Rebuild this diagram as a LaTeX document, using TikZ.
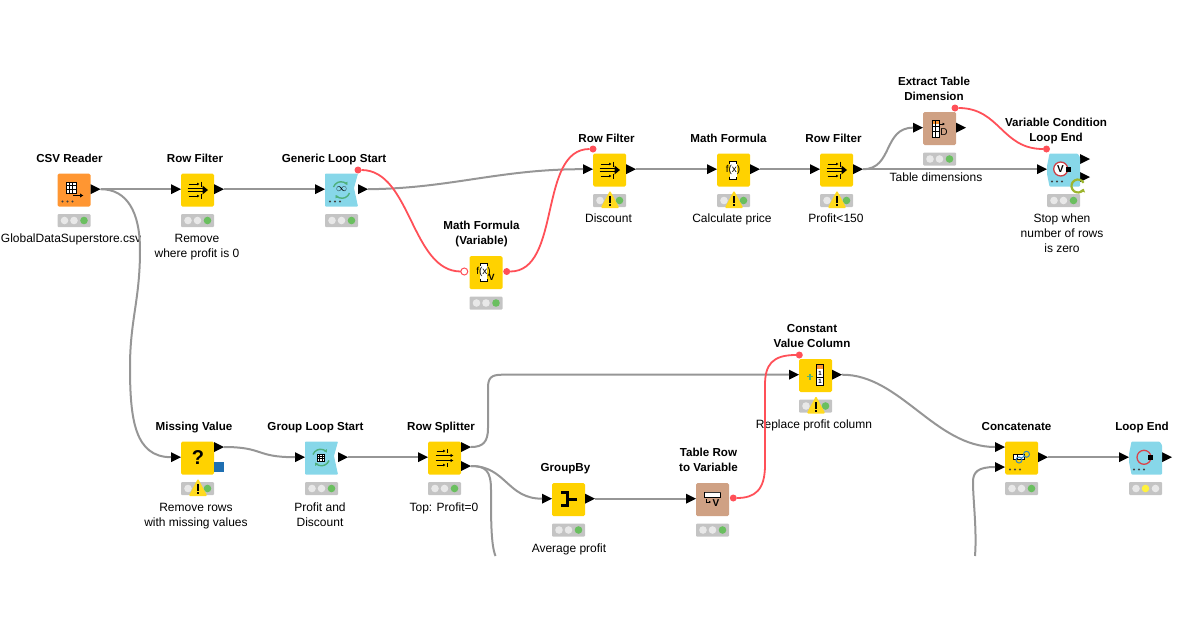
\documentclass[tikz,border=0pt]{standalone}
\usepackage{fontspec}
\setmainfont{Liberation Sans}
\usetikzlibrary{shapes.geometric,arrows.meta}
\definecolor{learnerfill}{HTML}{FFD200}
\definecolor{readerfill}{HTML}{FF9632}
\definecolor{loopfill}{HTML}{87D7E9}
\definecolor{varfill}{HTML}{CFA184}
\definecolor{lightbar}{HTML}{C4C4C4}
\definecolor{lightoff}{HTML}{E8E8E8}
\definecolor{lightgreen}{HTML}{6ABF5F}
\definecolor{lightyellow}{HTML}{FFF23C}
\definecolor{flowred}{HTML}{FF5058}
\definecolor{edgegrey}{HTML}{969696}
\definecolor{loopgreen}{HTML}{4FB07C}
\definecolor{recycle}{HTML}{9DB52E}
\definecolor{modelblue}{HTML}{1F6FB2}
\definecolor{warnfill}{HTML}{FFDA1F}
\tikzset{
  lights/.pic={
    \fill [lightbar, rounded corners=1] (-16.5,24) rectangle (16.5,37);
    \fill [lightoff] (-9.5,30.5) circle (3.8);
    \fill [lightoff] (0,30.5) circle (3.8);
    \fill [lightgreen] (10,30.5) circle (3.8);
  },
  lightsrun/.pic={
    \fill [lightbar, rounded corners=1] (-16.5,24) rectangle (16.5,37);
    \fill [lightoff] (-9.5,30.5) circle (3.8);
    \fill [lightyellow] (0,30.5) circle (3.8);
    \fill [lightoff] (10,30.5) circle (3.8);
  },
  warning/.pic={
    \fill [warnfill, rounded corners=1.2] (0.5,20.5) -- (9.8,38) -- (-8.8,38) -- cycle;
    \fill [black] (-0.5,26) rectangle (1.5,33);
    \fill [black] (-0.5,34.3) rectangle (1.5,36.3);
  },
  threedots/.pic={
    \fill [black!75] (-11.5,11.5) circle (1.2);
    \fill [black!75] (-6.5,11.5) circle (1.2);
    \fill [black!75] (-1.5,11.5) circle (1.2);
  },
  loopstartshape/.pic={
    \fill [loopfill, rounded corners=0.8] (-16.5,-16.5) -- (16.5,-16.5) -- (12.5,-2) -- (16.5,16.5) -- (-16.5,16.5) -- cycle;
  },
  loopendshape/.pic={
    \fill [loopfill, rounded corners=0.8] (-14,-16.5) -- (14,-16.5) -- (16.5,-13) -- (16.5,16.5) -- (-14,16.5) -- (-16.5,4) -- (-16.5,-4) -- cycle;
  },
  looparrows/.pic={
    \draw [loopgreen, line width=1.4, -{Latex[length=3,width=4]}] (-8,-3) arc [start angle=200, end angle=325, radius=8];
    \draw [loopgreen, line width=1.4, -{Latex[length=3,width=4]}] (8,3) arc [start angle=20, end angle=145, radius=8];
  },
  filtericon/.pic={
    \draw [black, line width=0.9, -{Latex[length=2.5,width=3]}] (-9,-6) -- (2,-6);
    \draw [black, line width=0.9] (3.5,-8.5) -- (3.5,-3.5);
    \draw [black, line width=0.9, -{Latex[length=2.5,width=3]}] (-9,6) -- (2,6);
    \draw [black, line width=0.9] (3.5,3.5) -- (3.5,8.5);
    \draw [black, line width=1.5] (-10,-1.6) -- (6,-1.6);
    \draw [black, line width=1.5] (-10,1.6) -- (6,1.6);
    \fill [black] (10.5,0) -- (5,-4.5) -- (5,4.5) -- cycle;
  },
  splittericon/.pic={
    \draw [black, line width=0.7, -{Latex[length=2.5,width=3]}] (-8,-7) -- (1,-7);
    \draw [black, line width=0.7] (2.5,-9) -- (2.5,-5);
    \draw [black, line width=0.7, -{Latex[length=2.5,width=3]}] (-8,7) -- (1,7);
    \draw [black, line width=0.7] (2.5,5) -- (2.5,9);
    \draw [black, line width=0.9, -{Latex[length=3,width=3.5]}] (-9,-2.5) -- (9,-2.5);
    \draw [black, line width=0.9, -{Latex[length=3,width=3.5]}] (-9,2.5) -- (9,2.5);
  },
  fxicon/.pic={
    \fill [white] (-3.5,-8.5) rectangle (3.5,9.5);
    \node [font=\fontsize{10}{10}\selectfont] (fx) at (0,0.5) {f(x)};
    \draw [black, line width=1] (-3.5,-6) -- (-3.5,-8.5) -- (3.5,-8.5) -- (3.5,-6);
    \draw [black, line width=1] (-3.5,7) -- (-3.5,9.5) -- (3.5,9.5) -- (3.5,7);
  },
  gridicon/.pic={
    \fill [white] (-5,-5) rectangle (5,5);
    \draw [black, line width=0.7] (-5,-5) rectangle (5,5);
    \draw [black, line width=0.7] (-1.7,-5) -- (-1.7,5);
    \draw [black, line width=0.7] (1.7,-5) -- (1.7,5);
    \draw [black, line width=0.7] (-5,-1.7) -- (5,-1.7);
    \draw [black, line width=0.7] (-5,1.7) -- (5,1.7);
  }
}
\begin{document}
\begin{tikzpicture}[x=1pt,y=-1pt]
    \tikzstyle{every node}+=[inner sep=0pt, outer sep=0pt, text=black]
    \tikzstyle{knimebox}=[minimum size=33, rounded corners=1.5]
    \tikzstyle{learner}=[knimebox, fill=learnerfill]
    \tikzstyle{reader}=[knimebox, fill=readerfill]
    \tikzstyle{varnode}=[knimebox, fill=varfill]
    \tikzstyle{port}=[isosceles triangle, isosceles triangle stretches, fill=black, minimum width=10, minimum height=10]
    \tikzstyle{outport}=[port, anchor=lower side]
    \tikzstyle{inport}=[port, anchor=apex]
    \tikzstyle{varport}=[circle, fill=flowred, minimum size=7]
    \tikzstyle{varportin}=[circle, draw=flowred, fill=white, line width=1, minimum size=7]
    \tikzstyle{nodetitle}=[font=\bfseries\fontsize{11.6}{15}\selectfont, align=center, yshift=-1.3, execute at begin node=\strut, execute at end node=\strut]
    \tikzstyle{nodenote}=[font=\fontsize{12}{15}\selectfont, align=center, yshift=-1.3, execute at begin node=\strut, execute at end node=\strut]
    \tikzstyle{dataedge}=[edgegrey, line width=2]
    \tikzstyle{flowedge}=[flowred, line width=1.8]
    \useasboundingbox (0,0) rectangle (1200,630);
    \node [reader] (csv) at (74,190) {};
    \node [nodetitle] (csv-t) at (69.5,158) {CSV Reader};
    \node [nodenote] (csv-n) at (71,238) {GlobalDataSuperstore.csv};
    \node [outport] (csv-o) at ([yshift=0.8]csv.east) {};
    \pic at (csv) {lights};
    \pic at (csv) {threedots};
    \begin{scope}[shift={(71,187.5)}]
    \fill [white] (-5,-5.5) rectangle (5,5.5);
    \draw [black, line width=0.7] (-5,-5.5) rectangle (5,5.5);
    \draw [black, line width=0.7] (-5,-2.2) -- (5,-2.2);
    \draw [black, line width=0.7] (-5,1.5) -- (5,1.5);
    \draw [black, line width=0.7] (-1.7,-5.5) -- (-1.7,5.5);
    \draw [black, line width=0.7] (1.7,-5.5) -- (1.7,5.5);
    \end{scope}
    \draw [black, line width=1.3, -{Latex[length=3.5,width=4.5]}] (73,195.5) -- (83.5,195.5);
    \node [learner] (rf1) at (197.5,190) {};
    \node [nodetitle] (rf1-t) at (195,158) {Row Filter};
    \node [nodenote] (rf1-n) at (197,246.5) {Remove\\where profit is 0};
    \node [inport] (rf1-i) at ([yshift=0.8]rf1.west) {};
    \node [outport] (rf1-o) at ([yshift=0.8]rf1.east) {};
    \pic at (rf1) {lights};
    \pic at (rf1) {filtericon};
    \node [knimebox] (gen) at (341.5,190) {};
    \node [nodetitle] (gen-t) at (334,158) {Generic Loop Start};
    \node [inport] (gen-i) at ([yshift=0.8]gen.west) {};
    \node [outport] (gen-o) at ([yshift=0.8]gen.east) {};
    \node [varport] (gen-v) at (358,170) {};
    \pic at (gen) {loopstartshape};
    \pic at (gen) {lights};
    \pic at (gen) {threedots};
    \pic at (gen) {looparrows};
    \node [font=\bfseries\fontsize{11}{11}\selectfont] (gen-inf) at (341.5,189.5) {$\infty$};
    \node [learner] (mfv) at (486,272.5) {};
    \node [nodetitle] (mfv-t) at (481.5,234) {Math Formula\\(Variable)};
    \node [varportin] (mfv-i) at (464.3,271.5) {};
    \node [varport] (mfv-o) at (506.7,271.5) {};
    \pic at (mfv) {lights};
    \pic at (483.5,271.5) {fxicon};
    \node [font=\bfseries\fontsize{9}{9}\selectfont] (mfv-v) at (491.5,277.5) {V};
    \node [learner] (rf2) at (609.5,170) {};
    \node [nodetitle] (rf2-t) at (606.5,138) {Row Filter};
    \node [nodenote] (rf2-n) at (608.5,218) {Discount};
    \node [inport] (rf2-i) at ([yshift=0.8]rf2.west) {};
    \node [outport] (rf2-o) at ([yshift=0.8]rf2.east) {};
    \node [varport] (rf2-v) at (593,149) {};
    \pic at (rf2) {lights};
    \pic at (rf2) {warning};
    \pic at (rf2) {filtericon};
    \node [learner] (mf) at (733.5,170) {};
    \node [nodetitle] (mf-t) at (728.5,138) {Math Formula};
    \node [nodenote] (mf-n) at (732,218) {Calculate price};
    \node [inport] (mf-i) at ([yshift=0.8]mf.west) {};
    \node [outport] (mf-o) at ([yshift=0.8]mf.east) {};
    \pic at (mf) {lights};
    \pic at (mf) {warning};
    \pic at (733,169.5) {fxicon};
    \node [learner] (rf3) at (836.5,170) {};
    \node [nodetitle] (rf3-t) at (833.5,138) {Row Filter};
    \node [nodenote] (rf3-n) at (836,218) {Profit<150};
    \node [inport] (rf3-i) at ([yshift=0.8]rf3.west) {};
    \node [outport] (rf3-o) at ([yshift=0.8]rf3.east) {};
    \pic at (rf3) {lights};
    \pic at (rf3) {warning};
    \pic at (rf3) {filtericon};
    \node [varnode] (ext) at (939.5,128.5) {};
    \node [nodetitle] (ext-t) at (934,90) {Extract Table\\Dimension};
    \node [nodenote] (ext-n) at (936,177) {Table dimensions};
    \node [inport] (ext-i) at ([yshift=0.8]ext.west) {};
    \node [outport] (ext-o) at ([yshift=0.8]ext.east) {};
    \node [varport] (ext-v) at (955,108) {};
    \pic at (ext) {lights};
    \fill [white] (932,120) rectangle (939,137);
    \fill [readerfill] (932,120) rectangle (939,123.5);
    \draw [black, line width=0.6] (932,120) rectangle (939,137);
    \draw [black, line width=0.6] (935.5,120) -- (935.5,137);
    \draw [black, line width=0.6] (932,126) -- (939,126);
    \draw [black, line width=0.6] (932,131) -- (939,131);
    \draw [black, line width=0.7, -{Latex[length=2.5,width=3]}] (939,124) -- (945,124);
    \node [font=\fontsize{10}{10}\selectfont] (ext-d) at (944,132.5) {D};
    \node [knimebox] (vc) at (1063.5,170) {};
    \node [nodetitle] (vc-t) at (1056,131) {Variable Condition\\Loop End};
    \node [nodenote] (vc-n) at (1062,234.5) {Stop when\\number of rows\\is zero};
    \node [inport] (vc-i) at ([yshift=0.8]vc.west) {};
    \node [outport] (vc-o1) at ([yshift=11]vc.east) {};
    \node [outport] (vc-o2) at ([yshift=-7]vc.east) {};
    \node [varport] (vc-v) at (1046.5,149) {};
    \pic at (vc) {loopendshape};
    \pic at (vc) {lights};
    \pic at (vc) {threedots};
    \draw [flowred!80!black, fill=white, line width=1.3] (1060.7,169) circle (7);
    \node [font=\bfseries\fontsize{10}{10}\selectfont] (vc-vl) at (1060.5,169) {V};
    \fill [black] (1066,166.5) rectangle (1071,171.5);
    \draw [recycle, line width=2.2, -{Latex[length=3,width=6]}] (1083.6,182.75) arc [start angle=-30, end angle=-335, radius=6.5];
    \node [learner] (miss) at (197.5,458) {};
    \node [nodetitle] (miss-t) at (194,426) {Missing Value};
    \node [nodenote] (miss-n) at (196,515.5) {Remove rows\\with missing values};
    \node [inport] (miss-i) at ([yshift=0.8]miss.west) {};
    \node [outport] (miss-o) at ([yshift=11]miss.east) {};
    \fill [modelblue] (214,461.5) rectangle (224,471.5);
    \pic at (miss) {lights};
    \pic at (miss) {warning};
    \node [font=\bfseries\fontsize{20}{20}\selectfont] (miss-q) at (198,458) {?};
    \node [knimebox] (gl) at (321.5,458) {};
    \node [nodetitle] (gl-t) at (315.5,426) {Group Loop Start};
    \node [nodenote] (gl-n) at (320,515.5) {Profit and\\Discount};
    \node [inport] (gl-i) at ([yshift=0.8]gl.west) {};
    \node [outport] (gl-o) at ([yshift=0.8]gl.east) {};
    \pic at (gl) {loopstartshape};
    \pic at (gl) {lights};
    \pic at (321,457.5) {looparrows};
    \pic [scale=0.7] at (321,457.5) {gridicon};
    \node [learner] (rs) at (444.5,458) {};
    \node [nodetitle] (rs-t) at (441,426) {Row Splitter};
    \node [nodenote] (rs-n) at (444,507) {Top: Profit=0};
    \node [inport] (rs-i) at ([yshift=0.8]rs.west) {};
    \node [outport] (rs-o1) at ([yshift=11]rs.east) {};
    \node [outport] (rs-o2) at ([yshift=-8]rs.east) {};
    \pic at (rs) {lights};
    \pic at (rs) {splittericon};
    \node [learner] (gb) at (568.5,499.5) {};
    \node [nodetitle] (gb-t) at (565.5,467) {GroupBy};
    \node [nodenote] (gb-n) at (569,548) {Average profit};
    \node [inport] (gb-i) at ([yshift=0.8]gb.west) {};
    \node [outport] (gb-o) at ([yshift=0.8]gb.east) {};
    \pic at (gb) {lights};
    \draw [black, line width=3] (561,492.7) -- (567.3,492.7) -- (567.3,505) -- (561,505);
    \draw [black, line width=3] (567.3,499) -- (576.7,499);
    \node [varnode] (tr) at (712.5,499.5) {};
    \node [nodetitle] (tr-t) at (708.5,460.5) {Table Row\\to Variable};
    \node [inport] (tr-i) at ([yshift=0.8]tr.west) {};
    \node [varport] (tr-v) at (733.3,498) {};
    \pic at (tr) {lights};
    \draw [black, fill=white, line width=0.8] (704.5,492) rectangle (720.5,497.5);
    \fill [black!80] (704.5,492) rectangle (720.5,493);
    \draw [black, line width=0.7, -{Latex[length=2,width=2.5]}] (706,499) -- (706,502) -- (711,502);
    \node [font=\bfseries\fontsize{10}{10}\selectfont] (tr-vl) at (716,503) {V};
    \node [learner] (cv) at (815.5,375.5) {};
    \node [nodetitle] (cv-t) at (812,337) {Constant\\Value Column};
    \node [nodenote] (cv-n) at (814,424) {Replace profit column};
    \node [inport] (cv-i) at ([yshift=0.8]cv.west) {};
    \node [outport] (cv-o) at ([yshift=0.8]cv.east) {};
    \node [varport] (cv-v) at (799.3,355) {};
    \pic at (cv) {lights};
    \pic at (cv) {warning};
    \fill [white] (816,364.5) rectangle (823.5,385.5);
    \fill [readerfill] (816,364.5) rectangle (823.5,369);
    \draw [black, line width=0.7] (816,364.5) rectangle (823.5,385.5);
    \draw [black, line width=0.7] (816,377) -- (823.5,377);
    \node [font=\bfseries\fontsize{6}{6}\selectfont] (cv-a) at (820,373) {1};
    \node [font=\bfseries\fontsize{6}{6}\selectfont] (cv-b) at (820,381.5) {1};
    \draw [loopgreen, line width=1.3] (807,376.5) -- (813,376.5);
    \draw [loopgreen, line width=1.3] (810,373.5) -- (810,379.5);
    \node [learner] (con) at (1021.5,458) {};
    \node [nodetitle] (con-t) at (1016.5,426) {Concatenate};
    \node [inport] (con-i1) at ([yshift=11]con.west) {};
    \node [inport] (con-i2) at ([yshift=-9]con.west) {};
    \node [outport] (con-o) at ([yshift=0.8]con.east) {};
    \pic at (con) {lights};
    \pic at (con) {threedots};
    \draw [black, fill=white, line width=0.7] (1013.5,454) rectangle (1024,459);
    \draw [black, line width=0.7] (1017,454) -- (1017,459);
    \draw [modelblue!80!loopfill, line width=1] (1019,460) circle (3);
    \draw [modelblue!80!loopfill, line width=1] (1026.5,454.3) circle (3);
    \draw [modelblue!80!loopfill, line width=1] (1021,458.5) -- (1024.5,456);
    \node [knimebox] (le) at (1145.5,458) {};
    \node [nodetitle] (le-t) at (1142,426) {Loop End};
    \node [inport] (le-i) at ([yshift=0.8]le.west) {};
    \node [outport] (le-o) at ([yshift=0.8]le.east) {};
    \pic at (le) {loopendshape};
    \pic at (le) {lightsrun};
    \pic at (le) {threedots};
    \draw [flowred!85!black, line width=1.3] (1144,457.3) circle (7);
    \fill [black] (1148,454.5) rectangle (1153,459.5);
    \coordinate (rs-cut) at (495.5,556);
    \coordinate (con-cut) at (975,556);
    \draw [dataedge] (csv-o.apex) -- (rf1-i.lower side);
    \draw [dataedge] (csv-o.apex) .. controls (127,189) and (140,212) .. (140,250) .. controls (140,300) and (130,320) .. (130,367) .. controls (130,420) and (135,457) .. (miss-i.lower side);
    \draw [dataedge] (rf1-o.apex) -- (gen-i.lower side);
    \draw [dataedge] (gen-o.apex) .. controls (450,188.5) and (500,169) .. (rf2-i.lower side);
    \draw [dataedge] (rf2-o.apex) -- (mf-i.lower side);
    \draw [dataedge] (mf-o.apex) -- (rf3-i.lower side);
    \draw [dataedge] (rf3-o.apex) .. controls +(30,0) and +(-30,0) .. (ext-i.lower side);
    \draw [dataedge] (rf3-o.apex) -- (vc-i.lower side);
    \draw [dataedge] (miss-o.apex) .. controls +(40,0) and +(-40,0) .. (gl-i.lower side);
    \draw [dataedge] (gl-o.apex) -- (rs-i.lower side);
    \draw [dataedge] (rs-o1.apex) .. controls (483,447) and (488,442) .. (488,428) -- (488,388) .. controls (488,378) and (491,374.7) .. (502,374.7) -- (cv-i.lower side);
    \draw [dataedge] (rs-o2.apex) .. controls +(35,0) and +(-35,0) .. (gb-i.lower side);
    \draw [dataedge] (rs-o2.apex) .. controls (486,466) and (491,471) .. (491,490) .. controls (491,520) and (491,545) .. (rs-cut);
    \draw [dataedge] (gb-o.apex) -- (tr-i.lower side);
    \draw [dataedge] (cv-o.apex) .. controls (900,374.5) and (935,447) .. (con-i1.lower side);
    \draw [dataedge] (con-cut) .. controls (977,530) and (973,500) .. (973,482) .. controls (973,472) and (978,467) .. (con-i2.lower side);
    \draw [dataedge] (con-o.apex) -- (le-i.lower side);
    \draw [flowedge] (gen-v) .. controls +(53,0) and +(-53,0) .. (mfv-i);
    \draw [flowedge] (mfv-o) .. controls +(55,0) and +(-55,0) .. (rf2-v);
    \draw [flowedge] (ext-v) .. controls +(45,0) and +(-45,0) .. (vc-v);
    \draw [flowedge] (tr-v) .. controls (755,498) and (765,490) .. (765,465) -- (765,385) .. controls (765,365) and (772,355) .. (cv-v);
\end{tikzpicture}
\end{document}
